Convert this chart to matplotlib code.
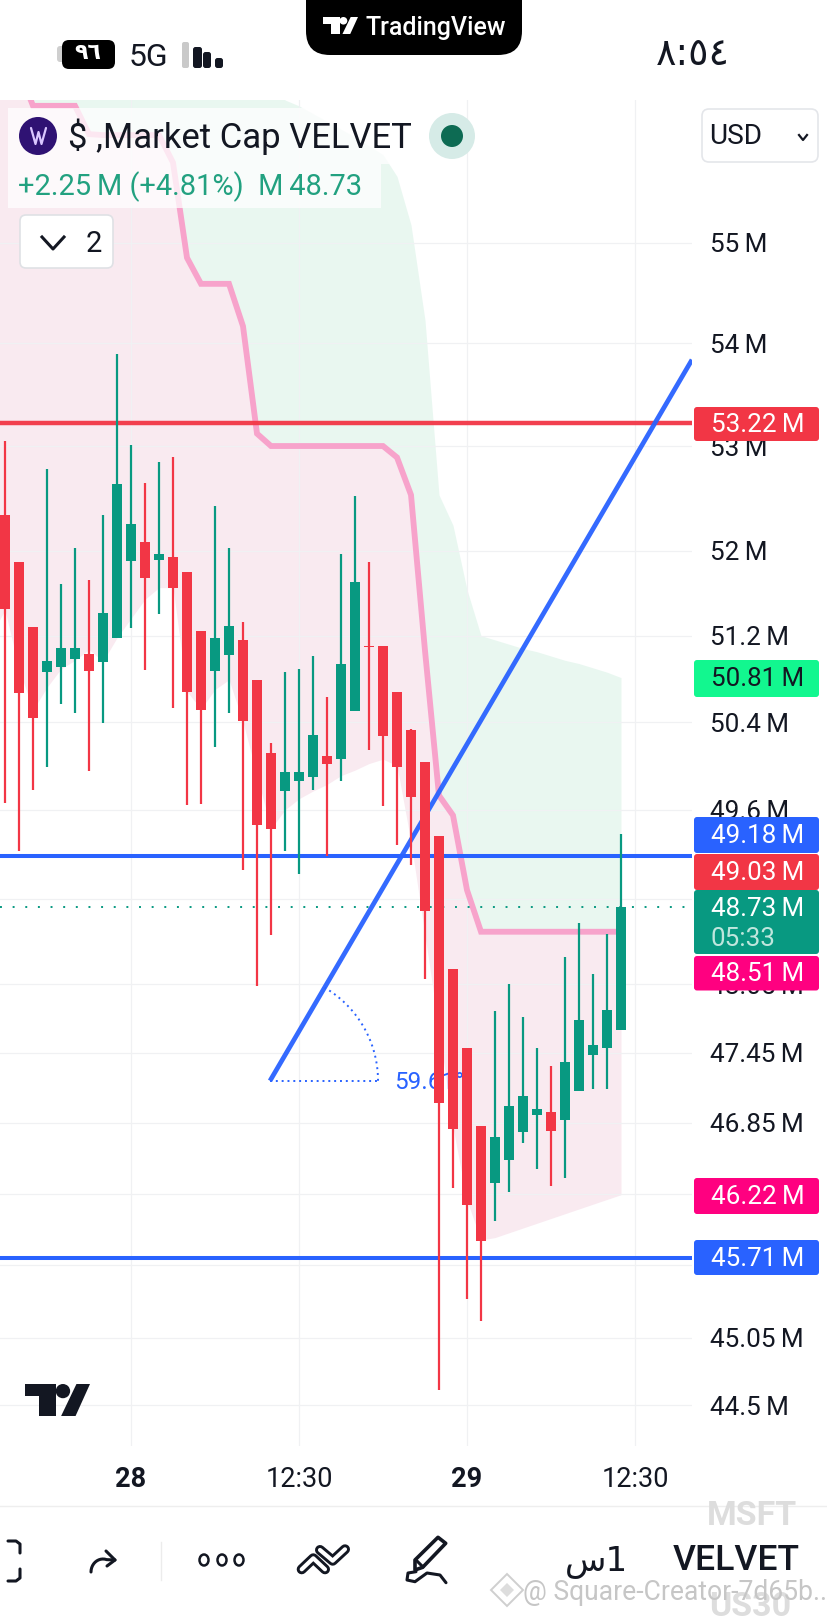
import numpy as np
import matplotlib
matplotlib.use("Agg")
import matplotlib.pyplot as plt
from matplotlib.patches import FancyBboxPatch, Rectangle, Circle, Polygon, Ellipse
from matplotlib.ticker import NullLocator
from matplotlib.transforms import IdentityTransform

plt.rcParams['font.family'] = ['Roboto', 'DejaVu Sans']

# ---------- data (values in millions) ----------
open_ = [52.34,51.89,51.28,50.86,50.91,50.98,51.03,50.95,51.18,51.90,52.08,51.91,51.94,51.80,51.24,
         50.87,51.02,51.16,50.79,50.12,49.77,49.86,49.90,50.09,50.06,50.50,51.10,51.10,50.68,50.33,
         50.03,49.36,48.18,47.49,46.82,46.34,46.53,46.77,46.92,46.94,46.87,47.12,47.43,47.49,47.65]
close = [51.45,50.67,50.44,50.96,51.08,51.08,50.87,51.41,52.63,52.25,51.74,51.97,51.65,50.68,50.51,
         51.18,51.29,50.41,49.46,49.43,49.94,49.94,50.28,50.02,50.94,51.70,51.09,50.27,49.99,49.72,
         48.69,47.02,46.80,46.15,45.85,46.73,46.99,47.08,46.97,46.78,47.37,47.74,47.52,47.82,48.73]
high  = [53.05,51.89,51.28,52.78,51.68,52.02,51.72,52.34,53.90,53.01,52.64,52.85,52.89,51.80,51.24,
         52.42,52.02,51.33,50.79,50.21,50.86,50.89,51.01,50.63,51.97,52.52,51.89,51.10,50.68,50.34,
         50.03,49.36,48.18,47.49,46.82,47.81,48.05,47.76,47.49,47.34,48.29,48.59,48.14,48.49,49.38]
low   = [49.66,49.23,49.78,49.99,50.57,50.48,49.95,50.39,51.18,51.27,50.88,51.40,50.53,49.64,49.65,
         50.17,50.48,49.06,48.03,48.48,49.23,49.02,49.78,49.18,49.86,50.50,50.14,49.63,49.28,49.10,
         48.09,44.62,46.30,45.37,45.19,46.02,46.26,46.68,46.46,46.31,46.38,47.12,47.14,47.14,47.65]
# band samples start one candle before the first visible candle
band_mid = [57.6,57.2,56.76,56.39,56.39,56.39,56.39,56.10,56.09,56.09,56.09,56.09,56.09,55.81,54.85,54.59,
            54.59,54.59,54.17,53.12,53.00,53.00,53.00,53.00,53.00,53.00,53.00,53.00,53.00,52.89,52.53,
            51.06,49.73,49.55,48.88,48.51,48.51,48.51,48.51,48.51,48.51,48.51,48.51,48.51,48.51,48.51]
band_up = [57.6,57.2,56.76,57.2,57.2,57.2,57.2,57.2,57.2,57.2,57.2,57.2,57.2,57.2,57.2,
           57.2,57.2,57.2,57.2,57.2,57.2,56.45,56.39,56.31,56.23,56.15,56.07,55.98,55.89,55.67,55.18,
           54.23,52.53,52.24,51.63,51.20,51.16,51.12,51.08,51.05,51.01,50.97,50.94,50.90,50.86,50.81]
band_lo = [51.20,51.44,50.89,50.51,50.72,50.89,50.97,51.07,50.96,51.18,51.36,51.54,51.65,51.65,50.68,50.52,
           50.70,50.79,50.40,49.91,49.43,49.60,49.70,49.77,49.83,49.91,49.96,50.02,50.06,50.00,49.31,
           48.48,47.65,46.81,46.19,45.86,45.88,45.92,45.96,46.00,46.04,46.08,46.12,46.16,46.20,46.24]
y_ticks = [55,54,53,52,51.2,50.4,49.6,48.8,48.05,47.45,46.85,46.25,45.65,45.05,44.5]
y_labels = ['55\u2009M','54\u2009M','53\u2009M','52\u2009M','51.2\u2009M','50.4\u2009M','49.6\u2009M','48.8\u2009M',
            '48.05\u2009M','47.45\u2009M','46.85\u2009M','46.25\u2009M','45.65\u2009M','45.05\u2009M','44.5\u2009M']
x_ticks = [9,21,33,45]
x_labels = ['28','12:30','29','12:30']
red_level = 53.22
blue_levels = [49.18,45.71]
last_price = 48.73
trend_x = [18.93,49.07]
trend_y = [47.21,53.84]
angle_deg = 59.61

RED='#f23645'; GREEN='#089981'; BLUE='#2962ff'; PINK='#f7a3cb'; HOT='#ff0080'; GRID='#f0f1f3'

W,H=828,1616
fig=plt.figure(figsize=(W/100,H/100),dpi=100,facecolor='white')
L,R,T_,B=0,692,100,1446
ax=fig.add_axes([L/W,1-B/H,(R-L)/W,(B-T_)/H],zorder=1)
ax.set_yscale('log')
ax.set_xlim(-5/14,(692-5)/14)
ax.set_ylim(44.17,56.45)
for s in ax.spines.values(): s.set_visible(False)
ax.yaxis.tick_right()
ax.set_yticks(y_ticks); ax.set_yticklabels(y_labels)
ax.yaxis.set_minor_locator(NullLocator())
ax.set_xticks(x_ticks); ax.set_xticklabels(x_labels)
ax.tick_params(axis='y',length=0,pad=13.2,labelsize=18.8,labelcolor='#131722')
ax.tick_params(axis='x',length=0,pad=14.5,labelsize=19.5,labelcolor='#131722')
for i,l in enumerate(ax.get_xticklabels()):
    if i%2==0: l.set_fontweight('bold')
ax.grid(True,color=GRID,lw=0.9,zorder=0)
ax.set_axisbelow(True)

idx=np.arange(len(open_))
band_idx=np.arange(-1,len(open_))
o,c,h,l=map(np.array,(open_,close,high,low))
ax.fill_between(band_idx,band_lo,band_mid,color='#f9e9f0',lw=0,zorder=0.5,alpha=.95)
ax.fill_between(band_idx,band_mid,band_up,color='#e8f7f0',lw=0,zorder=0.5,alpha=.95)
ax.plot(band_idx,band_mid,color=PINK,lw=4.2,solid_joinstyle='miter',zorder=2)
ax.axhline(red_level,color=RED,lw=3.2,zorder=3,alpha=.95)
for v in blue_levels: ax.axhline(v,color=BLUE,lw=2.9,zorder=3)
ax.plot(trend_x,trend_y,color=BLUE,lw=3.4,zorder=3,alpha=.95,solid_capstyle='butt')
ax.axhline(last_price,color=GREEN,lw=1.4,ls=(0,(1,5.5)),zorder=3)

# angle annotation
fig.canvas.draw()
ax0=ax.transData.transform((trend_x[0],trend_y[0]))
r=108
th=np.deg2rad(np.linspace(0,angle_deg,30))
ax.plot([ax0[0],ax0[0]+r],[ax0[1],ax0[1]],color=BLUE,lw=1.4,ls=(0,(1,2)),transform=IdentityTransform(),zorder=3)
ax.plot(ax0[0]+r*np.cos(th),ax0[1]+r*np.sin(th),color=BLUE,lw=1.4,ls=(0,(1,2)),transform=IdentityTransform(),zorder=3)
ax.annotate(f'{angle_deg:.2f}°',(trend_x[0],trend_y[0]),xytext=(124,-2),textcoords='offset pixels',
            color=BLUE,fontsize=17.5,va='center',zorder=3)

# candles
up=c>=o
cols=np.where(up,GREEN,RED)
ax.vlines(idx,l,h,colors=cols,lw=1.6,zorder=4)
ax.bar(idx,np.abs(c-o),bottom=np.minimum(o,c),width=10.4/14,color=cols,lw=0,zorder=5)

# ---------- chrome in pixel coordinates ----------
ui=fig.add_axes([0,0,1,1],zorder=5)
ui.set_xlim(0,W); ui.set_ylim(H,0); ui.axis('off'); ui.patch.set_alpha(0)
def txt(x,y,s,px,color='#131722',ha='left',va='center',**k):
    return ui.text(x,y,s,fontsize=px*.72,color=color,ha=ha,va=va,**k)
def rbox(x0,y0,x1,y1,rad,fc,ec='none',lw=0,**k):
    p=FancyBboxPatch((x0+rad,y0+rad),x1-x0-2*rad,y1-y0-2*rad,boxstyle=f'round,pad={rad},rounding_size={rad}',
                     fc=fc,ec=ec,lw=lw,mutation_aspect=1,**k)
    ui.add_patch(p); return p
def logo(x,y,w,h,color):
    sx,sy=w/36,h/18
    ui.add_patch(Polygon([(x,y),(x+17*sx,y),(x+17*sx,y+18*sy),(x+8*sx,y+18*sy),(x+8*sx,y+7*sy),(x,y+7*sy)],fc=color,lw=0))
    ui.add_patch(Ellipse((x+21*sx,y+4*sy),8*sx,8*sy,fc=color,lw=0))
    ui.add_patch(Polygon([(x+28.5*sx,y),(x+36*sx,y),(x+28*sx,y+18*sy),(x+20*sx,y+18*sy)],fc=color,lw=0))
def stroke(xs,ys,lw=2.2,c='#131722',**k):
    ui.plot(xs,ys,color=c,lw=lw,solid_capstyle='round',solid_joinstyle='round',**k)

# top pill
rbox(306,-40,522,55,24,'black')
logo(323,17,35,17,'white')
txt(366,28,'TradingView',25,'white',fontweight='medium')
# status bar
rbox(57,46,66,62,3,'#cfcfcf')
rbox(62,40,115,69,7,'black')
txt(88,53,'٩٦',22,'white',ha='center',family=['DejaVu Sans'],fontweight='bold')
txt(129,57,'5G',32,'#131722')
rbox(182,42,189,68,2,'#c9c9c9')
for x0,x1,y0 in [(193,202,47),(203,211,52),(215,223,58)]:
    rbox(x0,y0,x1,68,2.5,'#131722')
txt(693,55,'٨:٥٤',38,'#131722',ha='center',family=['DejaVu Sans'])

# legend
ui.add_patch(Rectangle((8,108),392,56,fc='white',alpha=.75,lw=0))
ui.add_patch(Rectangle((8,164),373,44,fc='white',alpha=.75,lw=0))
ui.add_patch(Circle((38,136),19,fc='#2f1273',lw=0))
stroke([31,35.5,38.5,41.5,46],[128,144,132,144,128],1.6,'#d9c6ff')
txt(68,137,'$ ,Market Cap VELVET',34.6,'#131722')
ui.add_patch(Circle((452,136),23,fc='#d6ebe7',lw=0))
ui.add_patch(Circle((452,136),11,fc='#0d6b53',lw=0))
txt(18,187,'+2.25\u2009M (+4.81%)  M\u200948.73',29,'#22a180')
rbox(20,215,113,268,6,'white','#dfe1e5',1.2)
ui.plot([42,53,64],[237,249,237],color='#131722',lw=2.2)
txt(86,244,'2',29)
rbox(702,109,818,162,7,'white','#e4e6ea',1.2)
txt(709,137,'USD',28)
ui.plot([799,803,807],[135,140,135],color='#131722',lw=1.6)

# price tags
tags=[(817,853,'49.18',BLUE,'white'),(854,890,'49.03',RED,'white'),(956,990.5,'48.51',HOT,'white'),
      (1178,1214,'46.22',HOT,'white'),(1240,1275,'45.71',BLUE,'white'),(407,441,'53.22',RED,'white'),
      (660,697,'50.81','#12f78f','#131722')]
for y0,y1,s,fc,tc in tags:
    rbox(694,y0,819,y1,3,fc)
    txt(711,(y0+y1)/2+1,s+'\u2009M',26,tc)
rbox(694,890,819,954,3,GREEN)
txt(711,909,'48.73\u2009M',26,'white')
txt(711,939,'05:33',26,'#bfe6dd')

# TV watermark
logo(25,1384,65,32,'#131722')

# bottom toolbar
ui.plot([0,W],[1506,1506],color='#eeeeee',lw=1)
ui.plot([161,161],[1542,1580],color='#ececec',lw=1)
stroke([8,16,20,20],[1541,1541,1544,1553])
stroke([8,16,20,20],[1581,1581,1578,1569])
t=np.linspace(np.pi,1.6*np.pi,12)
stroke(list(91+12*(np.cos(t)+1))+[115],list(1572+13*np.sin(t))+[1560])
stroke([106,115,107],[1551,1560,1566])
for x in (204,222,239):
    ui.add_patch(Ellipse((x,1560),9,11,fc='white',ec='#131722',lw=1.8))
for xs,ys in [([301.7,313.3,325],[1569.3,1558.3,1569.3]),([320,332.7,345],[1550,1560.7,1549.3])]:
    stroke(xs,ys,7.2,'#131722'); stroke(xs,ys,3.0,'white')
ui.add_patch(Polygon([(415,1570),(415,1560),(438,1537.3),(445.7,1543.3),(422.7,1567.3)],fc='white',ec='#131722',lw=2.6,joinstyle='round'))
stroke([416,423],[1560,1567],2.2)
stroke([416,408,407,415,427,440,446],[1571.7,1573,1580,1581.7,1573,1575,1582.7],2.2)
txt(596,1561,'س1',34,'#131722',ha='center',family=['DejaVu Sans'])
txt(673,1561,'VELVET',35.5,'#131722',fontweight='medium')
txt(707,1516,'MSFT',34,'#dddddd',fontweight='bold')
txt(709,1607,'US30',34,'#dddddd',fontweight='bold')
ui.add_patch(Polygon([(507,1574),(523,1590),(507,1606),(491,1590)],fc='none',ec='#cfcfcf',lw=1.4))
ui.add_patch(Polygon([(507,1583),(514,1590),(507,1597),(500,1590)],fc='#dddddd',lw=0))
txt(523,1592,'@ Square-Creator-7d65b...',26.5,'#c6c6c6')

fig.savefig('out.png',dpi=100,facecolor='white')
